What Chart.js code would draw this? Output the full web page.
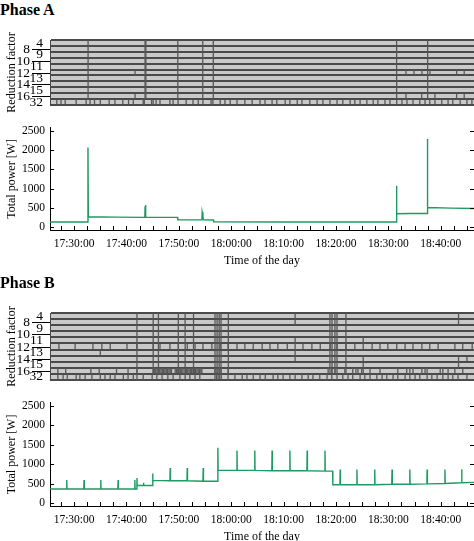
<!DOCTYPE html>
<html>
<head>
<meta charset="utf-8">
<script src="https://cdn.jsdelivr.net/npm/chart.js@4.4.0/dist/chart.umd.min.js"></script>
<style>
  body { margin: 0; background: #fff; width: 474px; height: 541px; position: relative; overflow: hidden; }
  .phase { position: absolute; left: 0; margin: 0; font: bold 16px "Liberation Serif", serif; line-height: 20px; }
  .box { position: absolute; left: 0; width: 474px; }
</style>
</head>
<body>
<div class="phase" style="top:0">Phase A</div>
<div class="box" style="top:25px;height:95px"><canvas id="rasterA"></canvas></div>
<div class="box" style="top:116px;height:154px"><canvas id="powerA"></canvas></div>
<div class="phase" style="top:273px">Phase B</div>
<div class="box" style="top:298px;height:97px"><canvas id="rasterB"></canvas></div>
<div class="box" style="top:391px;height:155px"><canvas id="powerB"></canvas></div>

<script>
// time axis: minutes after 17:00
const tMin = 25.4;
const tMax = 106.35;
const timeTicks = [30, 40, 50, 60, 70, 80, 90, 100];
const powerTicks = [0, 500, 1000, 1500, 2000, 2500];
const factors = ['4', '8', '9', '10', '11', '12', '13', '14', '15', '16', '32'];

// ---- Phase A: reduction events (minutes after 17:00)
const eventsA_all = [32.67, 43.55, 43.7, 49.8, 54.56, 56.58, 91.58, 97.5];
const eventsA_12 = [41.64, 93.36, 94.89, 96.41, 97.94, 103.03, 104.48];
const eventsA_16 = [41.64, 93.36, 96.36, 98.89, 103.03, 104.48];
const eventsA_32 = [26.7, 27.5, 28.3, 30.4, 32.3, 33.05, 33.9, 35.0, 36.7, 37.8, 39.3, 40.4, 41.3,
  43.2, 43.4, 44.8, 45.1, 45.65, 46.4, 48.3, 48.9, 49.85, 51.4, 52.7, 53.7, 54.6, 56.15, 56.5, 57.9,
  58.8, 59.8, 61.1, 62.6, 64.0, 65.5, 66.45, 67.8, 68.7, 70.3, 71.2, 72.6, 73.5, 75.0, 76.4, 77.5,
  78.85, 80.2, 81.3, 82.7, 83.6, 84.6, 85.9, 87.1, 88.0, 89.35, 90.3, 91.6, 92.6, 93.55, 94.7, 96.0,
  97.0, 97.9, 98.9, 100.2, 101.4, 102.3, 103.7, 105.0, 105.95];

// ---- Phase A: total power (minutes after 17:00, W)
const powerA_t = [25.4, 32.6, 32.65, 32.72, 38.0, 43.5, 43.55, 43.6, 43.68, 43.72, 43.78, 49.75, 49.8,
  54.4, 54.45, 54.6, 54.7, 56.6, 56.65, 70.0, 91.5, 91.55, 91.62, 94.0, 97.4, 97.45, 97.52, 102.0, 106.35];
const powerA_w = [130, 130, 2070, 265, 255, 250, 540, 250, 570, 250, 250, 250, 185,
  185, 380, 260, 185, 180, 135, 130, 130, 1070, 345, 350, 350, 2290, 505, 490, 480];

// ---- Phase B: reduction events
const eventsB_all = [42.0, 45.1, 46.1, 49.9, 51.2, 52.8, 56.9, 57.3, 57.7, 58.05, 59.45, 78.85, 79.25, 79.8, 80.2, 81.9];
const eventsB_4 = [72.2, 103.4];
const eventsB_8 = [72.2, 103.4];
const eventsB_11 = [72.2, 85.2];
const eventsB_12 = [27.1, 30.2, 33.6, 35.3, 36.9, 40.1, 42.0, 45.1, 46.4, 48.3, 49.9, 51.6, 53.1, 54.6,
  56.3, 57.9, 59.4, 61.1, 62.6, 64.2, 65.9, 67.4, 68.9, 70.7, 72.2, 73.7, 75.4, 77.0, 78.9, 80.2, 81.9,
  83.6, 85.2, 86.9, 88.4, 89.9, 91.6, 93.2, 94.7, 96.4, 97.9, 99.5, 102.7, 104.2, 106.0];
const eventsB_13 = [35.0, 72.2];
const eventsB_14 = [72.2, 85.2, 103.4, 105.0];
const eventsB_15 = [85.2, 103.4];
const eventsB_16 = [26.9, 28.4, 33.2, 34.8, 38.1, 40.3, 42.0,
  45.1, 45.35, 45.6, 45.85, 46.1, 46.35, 46.6, 46.85, 47.1, 47.35, 47.6, 47.85, 48.1, 48.35, 48.6,
  49.3, 49.55, 49.8, 50.05, 50.3, 50.55, 50.8,
  51.2, 51.45, 51.7, 51.95, 52.2, 52.45, 52.7, 52.95, 53.2, 53.45, 53.7, 53.95, 54.2, 54.4,
  56.9, 57.3, 57.7, 58.05, 59.4, 78.5, 79.2, 79.8, 81.7, 83.2, 83.8, 84.2, 84.9, 85.2, 86.5, 88.4,
  91.8, 93.5, 94.1, 94.7, 96.4, 97.0, 97.4, 99.9, 100.4, 101.4, 102.7, 104.2];
const eventsB_32 = [26.9, 27.9, 28.7, 30.4, 31.1, 32.1, 33.4, 35.0, 35.9, 36.9, 37.8, 39.4, 40.3, 41.3,
  42.0, 43.2, 44.9, 45.8, 46.8, 47.9, 48.9, 50.2, 51.2, 52.1, 53.1, 54.0, 56.9, 57.2, 57.5, 57.8, 58.1,
  59.4, 60.7, 62.1, 63.0, 64.2, 65.5, 66.5, 68.0, 68.9, 69.9, 71.2, 72.2, 73.5, 74.7, 75.6, 76.9, 78.3,
  79.2, 80.2, 81.3, 82.3, 83.2, 84.6, 85.5, 86.5, 87.8, 88.8, 89.7, 90.9, 91.8, 93.2, 94.1, 95.1, 96.0,
  97.4, 98.3, 99.3, 100.4, 101.4, 102.3, 103.3, 105.0];

// ---- Phase B: total power
const powerB_t = [25.4, 28.55, 28.6, 28.65, 31.85, 31.9, 31.95, 35.05, 35.1, 35.15, 38.35, 38.4, 38.45,
  41.55, 41.6, 41.65, 41.95, 42.0, 42.05, 43.2, 43.25, 43.3, 44.95, 45.0, 45.05, 48.3, 48.35, 48.4,
  51.55, 51.6, 51.65, 54.6, 54.65, 54.7, 57.4, 57.45, 57.5, 61.05, 61.1, 61.15, 64.45, 64.5, 64.55,
  67.75, 67.8, 67.85, 71.15, 71.2, 71.25, 74.45, 74.5, 74.55, 77.85, 77.9, 77.95, 79.35, 79.4,
  80.75, 80.8, 80.85, 83.95, 84.0, 84.05, 87.35, 87.4, 87.45, 90.65, 90.7, 90.75, 94.05, 94.1, 94.15,
  97.35, 97.4, 97.45, 100.75, 100.8, 100.85, 103.95, 104.0, 104.05, 106.35];
const powerB_w = [360, 360, 590, 360, 360, 590, 360, 360, 590, 360, 360, 590, 360,
  360, 590, 360, 360, 640, 450, 450, 520, 450, 450, 760, 580, 570, 900, 570,
  570, 900, 570, 560, 900, 560, 560, 1420, 840, 840, 1350, 840, 840, 1350, 840,
  830, 1350, 830, 830, 1350, 830, 830, 1350, 830, 820, 1350, 820, 820, 470,
  470, 860, 470, 470, 860, 470, 470, 860, 470, 480, 860, 480, 480, 860, 480,
  490, 860, 490, 500, 860, 500, 520, 870, 520, 530];

const serif = '"Liberation Serif", "Times New Roman", serif';
const dark = '#4a4a4a';
const green = '#1e9a62';

function fmtTime(m) {
  const h = 17 + Math.floor(m / 60);
  const mm = Math.round(m % 60);
  return h + ':' + String(mm).padStart(2, '0') + ':00';
}

function pts(times, row) {
  return times.map(t => ({ x: t, y: row }));
}

// grey background + alternating long label ticks for the raster
const rasterPlugin = {
  id: 'raster',
  beforeDraw(chart) {
    const a = chart.chartArea, ctx = chart.ctx;
    ctx.save();
    ctx.fillStyle = '#c9c9c9';
    ctx.fillRect(a.left, a.top, a.right - a.left, a.bottom - a.top);
    ctx.restore();
  },
  afterDraw(chart) {
    const ctx = chart.ctx, y = chart.scales.y;
    ctx.save();
    ctx.font = '13.5px ' + serif;
    ctx.fillStyle = '#000';
    ctx.strokeStyle = '#000';
    ctx.lineWidth = 1;
    ctx.textAlign = 'right';
    ctx.textBaseline = 'middle';
    factors.forEach((f, i) => {
      if (i % 2 === 1) {
        const py = Math.round(y.getPixelForValue(i)) + 0.5;
        ctx.beginPath();
        ctx.moveTo(32, py);
        ctx.lineTo(chart.chartArea.left, py);
        ctx.stroke();
        ctx.fillText(f, 30, py);
      }
    });
    ctx.restore();
  }
};

// inward tick marks for the power plot
const tickPlugin = {
  id: 'inticks',
  afterDraw(chart) {
    const a = chart.chartArea, ctx = chart.ctx;
    const x = chart.scales.x, y = chart.scales.y;
    ctx.save();
    ctx.strokeStyle = '#000';
    ctx.lineWidth = 1;
    ctx.beginPath();
    for (let m = 27.5; m <= tMax; m += 2.5) {
      const px = Math.round(x.getPixelForValue(m)) + 0.5;
      ctx.moveTo(px, a.bottom);
      ctx.lineTo(px, a.bottom - 4);
    }
    powerTicks.forEach(v => {
      const py = Math.round(y.getPixelForValue(v)) + 0.5;
      ctx.moveTo(a.left, py);
      ctx.lineTo(a.left + 4, py);
      ctx.moveTo(a.right, py);
      ctx.lineTo(a.right - 4, py);
    });
    ctx.stroke();
    ctx.restore();
  }
};

function rasterChart(id, rows) {
  const datasets = rows.map(r => ({
    data: pts(r.times, r.label),
    pointStyle: 'line',
    rotation: 90,
    radius: 2.8,
    borderWidth: 1.3,
    borderColor: '#575757',
    backgroundColor: '#575757'
  }));
  return new Chart(document.getElementById(id), {
    type: 'scatter',
    data: { datasets },
    options: {
      responsive: true,
      maintainAspectRatio: false,
      animation: false,
      events: [],
      layout: { padding: { top: 2, bottom: 2, left: 0, right: 0 }, autoPadding: false },
      plugins: { legend: { display: false }, tooltip: { enabled: false } },
      scales: {
        x: { type: 'linear', min: tMin, max: tMax, display: false },
        y: {
          type: 'category',
          labels: factors,
          offset: true,
          afterFit: s => { s.width = 50; },
          border: { color: dark, width: 1 },
          grid: { offset: true, color: dark, lineWidth: 2, drawTicks: false },
          ticks: {
            autoSkip: false,
            padding: 7,
            color: '#000',
            font: { family: serif, size: 13.5 },
            callback: (v, i) => (i % 2 === 1 ? '' : factors[i])
          },
          title: {
            display: true,
            text: 'Reduction factor',
            color: '#000',
            font: { family: serif, size: 12 },
            padding: { top: 4.5, bottom: 0 }
          }
        }
      }
    },
    plugins: [rasterPlugin]
  });
}

function powerChart(id, ts, ws) {
  return new Chart(document.getElementById(id), {
    type: 'line',
    data: {
      datasets: [{
        data: ts.map((t, i) => ({ x: t, y: ws[i] })),
        borderColor: green,
        borderWidth: 1.4,
        pointRadius: 0,
        tension: 0,
        fill: false
      }]
    },
    options: {
      responsive: true,
      maintainAspectRatio: false,
      animation: false,
      events: [],
      layout: { padding: { top: 2, bottom: 0, left: 0, right: 0 }, autoPadding: false },
      plugins: { legend: { display: false }, tooltip: { enabled: false } },
      scales: {
        x: {
          type: 'linear',
          min: tMin,
          max: tMax,
          afterFit: s => { s.height = 40; },
          afterBuildTicks: s => { s.ticks = timeTicks.map(v => ({ value: v })); },
          border: { color: '#000', width: 1 },
          grid: { display: false, drawTicks: false },
          ticks: {
            padding: 7,
            maxRotation: 0,
            autoSkip: false,
            color: '#000',
            font: { family: serif, size: 11.5 },
            callback: v => fmtTime(v)
          },
          title: {
            display: true,
            text: 'Time of the day',
            color: '#000',
            font: { family: serif, size: 12 },
            padding: { top: 0, bottom: 1.5 }
          }
        },
        y: {
          min: -80,
          max: 2580,
          afterFit: s => { s.width = 50; },
          afterBuildTicks: s => { s.ticks = powerTicks.map(v => ({ value: v })); },
          border: { color: '#000', width: 1 },
          grid: { display: false, drawTicks: false },
          ticks: {
            padding: 5,
            autoSkip: false,
            color: '#000',
            font: { family: serif, size: 11.5 },
            callback: v => String(v)
          },
          title: {
            display: true,
            text: 'Total power [W]',
            color: '#000',
            font: { family: serif, size: 12 },
            padding: { top: 4.5, bottom: 0 }
          }
        }
      }
    },
    plugins: [tickPlugin]
  });
}

const rowsA = factors.map(f => {
  let times = [];
  if (f !== '32') times = times.concat(eventsA_all);
  if (f === '12') times = times.concat(eventsA_12);
  if (f === '16') times = times.concat(eventsA_16);
  if (f === '32') times = times.concat(eventsA_32);
  return { label: f, times };
});

const extraB = { '4': eventsB_4, '8': eventsB_8, '11': eventsB_11, '12': eventsB_12,
  '13': eventsB_13, '14': eventsB_14, '15': eventsB_15, '16': eventsB_16 };
const rowsB = factors.map(f => {
  let times = f === '32' ? eventsB_32 : eventsB_all.concat(extraB[f] || []);
  return { label: f, times };
});

rasterChart('rasterA', rowsA);
powerChart('powerA', powerA_t, powerA_w);
rasterChart('rasterB', rowsB);
powerChart('powerB', powerB_t, powerB_w);
</script>
</body>
</html>
